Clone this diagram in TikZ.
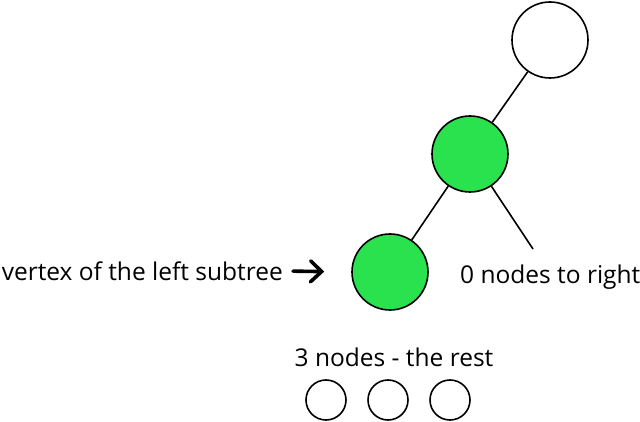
\documentclass[tikz,border=0pt]{standalone}
\usepackage{fontspec}
\setmainfont{Open Sans}
\usetikzlibrary{arrows.meta}
\definecolor{vgreen}{RGB}{41,226,77}
\tikzset{
  vtx/.style={circle, draw=black, line width=1.6pt, minimum size=76pt, inner sep=0pt},
  small/.style={circle, draw=black, line width=1.6pt, minimum size=40pt, inner sep=0pt},
  edge/.style={line width=1.6pt},
  lbl/.style={font=\fontsize{24.5}{28}\selectfont, inner sep=0pt},
}
\begin{document}
\begin{tikzpicture}[x=1pt,y=-1pt]
\useasboundingbox (0,0) rectangle (640,422);
\node[vtx] (top) at (550,40) {};
\node[vtx, fill=vgreen] (mid) at (470,154) {};
\node[vtx, fill=vgreen] (low) at (390,272) {};
\coordinate (rend) at (533,249);
\draw[edge] (top) -- (mid);
\draw[edge] (mid) -- (low);
\draw[edge] (mid) -- (rend);
\node[lbl, anchor=west] (rlab) at (460,277) {0 nodes to right};
\node[lbl, anchor=east] (llab) at (283,271) {vertex of the left subtree};
\draw[line width=3.6pt, line cap=round, -{Straight Barb[length=11pt,width=21pt,line cap=round]}, shorten <=10pt, shorten >=27pt] (llab.east) -- (low.west);
\node[lbl] (rest) at (394,357) {3 nodes - the rest};
\node[small] (s1) at (326,400) {};
\node[small] (s2) at (388,400) {};
\node[small] (s3) at (450,400) {};
\end{tikzpicture}
\end{document}
